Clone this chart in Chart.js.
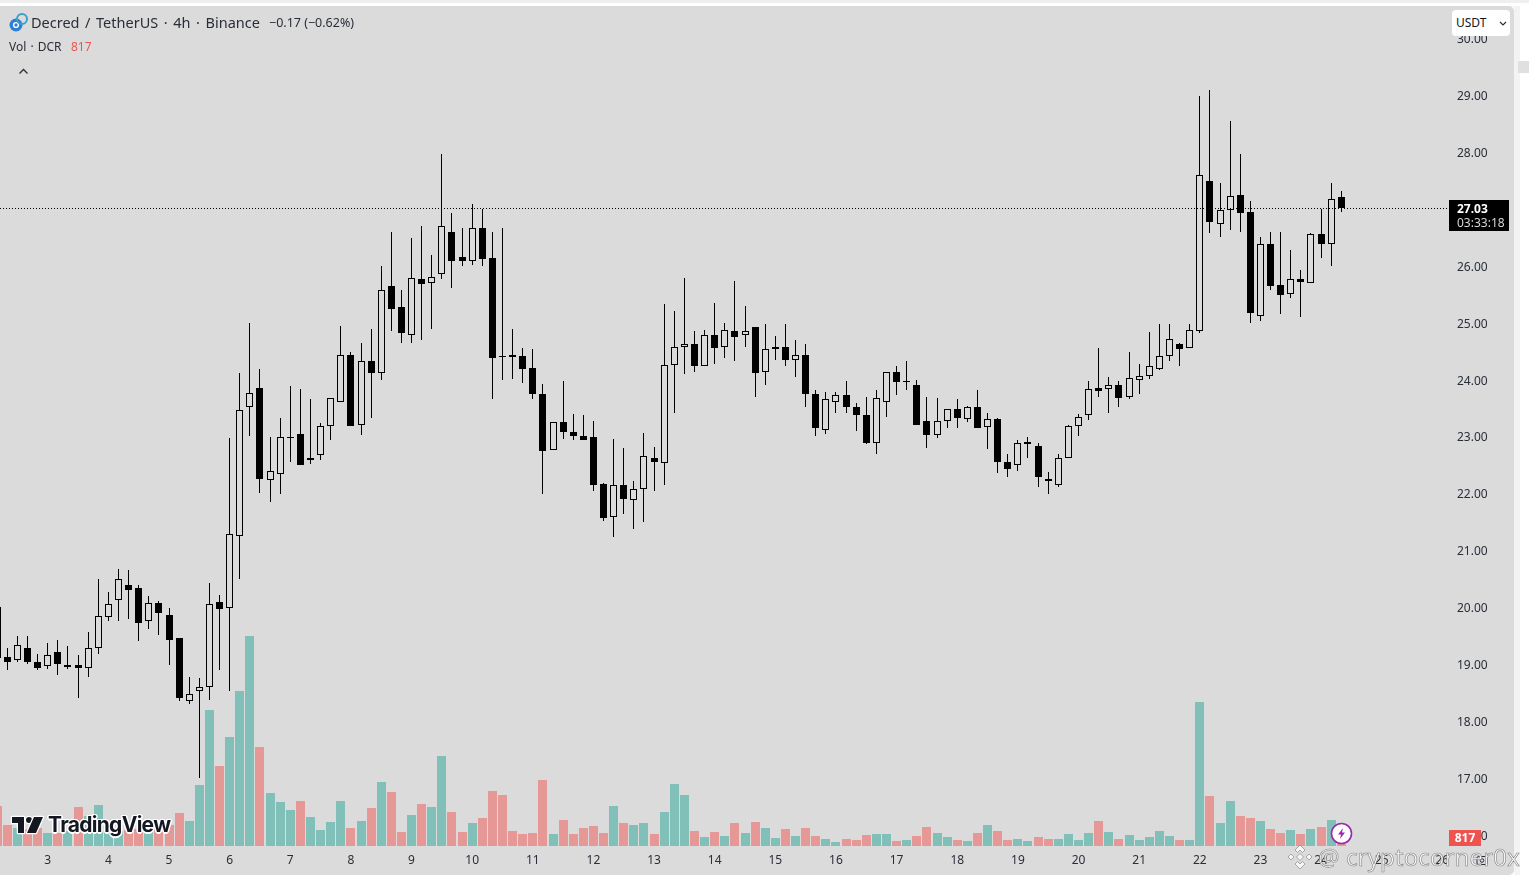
<!DOCTYPE html>
<html>
<head>
<meta charset="utf-8">
<title>Decred / TetherUS</title>
<script src="https://cdn.jsdelivr.net/npm/chart.js@4"></script>
<style>
html,body{margin:0;padding:0;width:1529px;height:882px;overflow:hidden;background:#fff;font-family:"Noto Sans",sans-serif}
#topband{position:absolute;left:0;top:0;width:1529px;height:3px;background:#efefef}
#sideband{position:absolute;left:1514px;top:6px;width:6px;height:869px;background:#f3f3f3}
#sidebox{position:absolute;left:1518px;top:61px;width:11px;height:12px;background:#e0e0e0}
#panel{position:absolute;left:0;top:6px;width:1514px;height:869px;background:#dbdbdb;border-radius:0 5px 5px 0}
#wrap{position:absolute;left:0;top:0}
.t{position:absolute;white-space:nowrap;color:#2a2e39}
#usdt{position:absolute;left:1452px;top:10px;width:58px;height:26px;background:#fff;border-radius:4px}
#logotext{position:absolute;left:48px;top:812px;font:700 21px Inter,sans-serif;color:#131722;letter-spacing:-.7px;white-space:nowrap;
  text-shadow:-1.5px 0 #fff,1.5px 0 #fff,0 -1.5px #fff,0 1.5px #fff,-1px -1px #fff,1px 1px #fff,-1px 1px #fff,1px -1px #fff}
#mark{position:absolute;left:10px;top:814px}
#bolt{position:absolute;left:1330px;top:822px}
#wm{position:absolute;left:1318px;top:840px;font:400 24px "Open Sans",sans-serif;letter-spacing:.2px;white-space:nowrap;color:rgba(248,248,248,.95);
  -webkit-text-stroke:.6px rgba(105,105,105,.8)}
#wmlogo{position:absolute;left:1286px;top:843px}
#cam{position:absolute;left:1476px;top:854px}
</style>
</head>
<body>
<div id="topband"></div>
<div id="sideband"></div>
<div id="sidebox"></div>
<div id="panel"></div>
<div id="wrap"><canvas id="c" width="1529" height="882" style="display:block;width:1529px;height:882px"></canvas></div>

<svg style="position:absolute;left:9px;top:13px" width="19" height="19" viewBox="0 0 19 19">
  <circle cx="7" cy="12" r="6.5" fill="#2f7fd6"/><circle cx="7" cy="12" r="2.4" fill="none" stroke="#fff" stroke-width="1.4"/>
  <circle cx="13" cy="6" r="5" fill="none" stroke="#3aa0c8" stroke-width="2"/>
</svg>
<div class="t" style="left:31px;top:12px;font-size:14.5px;line-height:20px;word-spacing:1.8px">Decred / TetherUS · 4h · Binance</div>
<div class="t" style="left:269px;top:14px;font-size:12.5px;line-height:18px">−0.17 (−0.62%)</div>
<div class="t" style="left:9px;top:38px;font-size:12px;line-height:17px;word-spacing:1px">Vol · DCR</div>
<div class="t" style="left:71px;top:38px;font-size:12px;line-height:17px;color:#ef5350">817</div>
<svg style="position:absolute;left:18px;top:68px" width="11" height="7" viewBox="0 0 11 7"><path d="M1.5 5.5 L5.5 1.5 L9.5 5.5" fill="none" stroke="#2a2e39" stroke-width="1.3"/></svg>

<div id="usdt"></div>
<div class="t" style="left:1456px;top:14px;font-size:12px;line-height:17px;color:#131722">USDT</div>
<svg style="position:absolute;left:1499px;top:21px" width="8" height="5" viewBox="0 0 8 5"><path d="M1 1 L4 4 L7 1" fill="none" stroke="#2a2e39" stroke-width="1.2"/></svg>

<svg id="mark" width="36" height="22" viewBox="0 0 36 22">
  <g stroke="#fff" stroke-width="2.5" paint-order="stroke" stroke-linejoin="round">
  <path d="M2 3 H14 V19 H8 V9 H2 Z" fill="#131722"/>
  <circle cx="19" cy="6" r="3" fill="#131722"/>
  <path d="M24 3 H33 L26 19 H17 Z" fill="#131722"/></g>
</svg>
<div id="logotext">TradingView</div>

<svg id="cam" width="12" height="12" viewBox="0 0 12 12"><rect x="1" y="2.5" width="10" height="8" rx="1.5" fill="none" stroke="#2a2e39"/><circle cx="6" cy="6.5" r="1.8" fill="none" stroke="#2a2e39"/></svg>

<svg id="bolt" width="24" height="24" viewBox="0 0 24 24">
  <circle cx="11.5" cy="11.5" r="10" fill="#fff" stroke="#9c27b0" stroke-width="1.6"/>
  <path d="M13 6 L8 12.5 H11 L10 17 L15 10.5 H12 Z" fill="#9c27b0"/>
</svg>
<svg id="wmlogo" width="28" height="28" viewBox="0 0 28 28" fill="rgba(248,248,248,.95)" stroke="rgba(105,105,105,.75)" stroke-width=".7">
  <path d="M14 2 L19 7 L16.5 9.5 L14 7 L11.5 9.5 L9 7 Z"/>
  <path d="M14 26 L19 21 L16.5 18.5 L14 21 L11.5 18.5 L9 21 Z"/>
  <path d="M2 14 L5 11 L8 14 L5 17 Z"/><path d="M26 14 L23 11 L20 14 L23 17 Z"/>
  <path d="M14 10.5 L17.5 14 L14 17.5 L10.5 14 Z"/>
</svg>
<div id="wm">@ cryptocorner0x</div>

<script>
const dayLabels = ["3","4","5","6","7","8","9","10","11","12","13","14","15","16","17","18","19","20","21","22","23","24","25","26"];
const priceTicks = [16,17,18,19,20,21,22,23,24,25,26,27,28,29,30];

const openPrices = [
20.01,19.13,19.09,19.29,19.04,18.98,19.22,18.99,18.99,18.95,
19.29,19.84,20.13,20.40,20.35,19.76,20.08,19.87,19.47,18.37,
18.53,18.60,20.11,19.99,21.27,23.53,23.87,22.24,22.35,23.00,
23.05,22.59,22.68,23.19,23.61,24.44,23.21,24.33,24.12,25.65,
25.28,24.79,25.77,25.70,25.86,26.61,26.16,26.10,26.68,26.14,
24.43,24.44,24.42,24.21,23.75,22.77,23.26,23.08,23.01,23.00,
22.17,21.59,22.15,21.89,22.08,22.63,22.54,24.26,24.58,24.63,
24.24,24.79,24.58,24.86,24.79,24.93,24.14,24.58,24.58,24.36,
24.44,23.75,23.12,23.62,23.73,23.52,23.38,22.89,23.61,24.14,
23.98,23.91,23.28,23.04,23.28,23.49,23.32,23.52,23.18,23.31,
22.56,22.50,22.91,22.84,22.26,22.16,22.63,23.19,23.38,23.86,
23.84,23.91,23.71,24.00,24.08,24.19,24.42,24.63,24.56,24.86,
27.49,26.75,26.98,27.25,26.95,25.12,26.39,25.67,25.51,25.77,
25.70,26.56,26.40,27.21];

const highPrices = [
20.01,19.29,19.51,19.51,19.19,19.39,19.43,19.32,19.17,19.57,
20.50,20.27,20.69,20.66,20.40,20.20,20.12,20.00,19.47,18.79,
18.77,20.44,20.22,22.98,24.12,25.00,24.19,23.00,23.33,23.89,
23.84,23.66,23.24,23.68,24.95,24.49,24.65,24.89,26.00,26.60,
25.58,26.49,26.70,26.19,27.97,26.93,26.67,27.09,27.01,26.60,
26.68,24.89,24.56,24.54,23.93,23.26,23.98,23.40,23.38,23.28,
22.19,22.96,22.80,22.22,23.07,22.82,25.33,25.21,25.79,24.86,
24.88,25.35,25.00,25.74,25.30,24.93,24.98,24.77,24.98,24.70,
24.63,23.82,23.79,23.79,23.98,23.59,23.70,23.82,24.15,24.24,
24.33,24.00,23.70,23.68,23.49,23.66,23.54,23.82,23.42,23.33,
22.70,22.94,23.00,22.89,22.38,22.71,23.21,23.40,23.98,24.56,
24.05,23.98,24.49,24.28,24.84,24.98,24.98,24.65,24.98,28.99,
29.09,27.46,28.56,27.97,27.14,26.51,26.60,26.60,26.28,25.93,
26.58,27.00,27.46,27.32];

const lowPrices = [
19.12,18.91,19.05,19.02,18.91,18.93,18.82,18.93,18.42,18.79,
19.18,19.76,19.76,19.81,19.42,19.62,19.53,19.00,18.37,18.31,
17.01,18.38,18.91,18.53,20.51,23.02,22.02,21.86,22.00,22.56,
22.51,22.52,22.59,22.94,23.61,23.19,23.03,23.34,24.01,24.87,
24.66,24.66,24.71,24.90,25.78,25.62,26.01,26.03,26.01,23.67,
24.01,24.02,23.95,23.66,22.00,22.77,22.97,22.95,22.94,22.06,
21.53,21.25,21.64,21.39,21.51,22.06,22.16,23.43,24.11,24.15,
24.24,24.29,24.39,24.34,24.59,23.71,23.92,24.36,24.24,24.06,
23.53,23.02,23.06,23.43,23.43,23.11,22.87,22.71,23.36,23.74,
23.83,23.22,22.81,22.99,23.15,23.16,23.27,23.15,22.79,22.37,
22.30,22.41,22.64,22.13,22.00,22.13,22.63,23.01,23.30,23.71,
23.43,23.52,23.67,23.76,24.02,24.17,24.34,24.25,24.56,24.83,
26.59,26.52,26.63,26.61,25.01,25.03,25.59,25.17,25.45,25.10,
25.70,26.15,26.01,26.96];

const closePrices = [
19.12,19.04,19.34,19.04,18.95,19.17,19.02,18.96,18.95,19.29,
19.85,20.06,20.50,20.31,19.74,20.08,19.91,19.44,18.42,18.48,
18.60,20.06,19.98,21.29,23.47,23.77,22.27,22.40,23.00,22.99,
22.51,22.63,23.19,23.68,24.44,23.19,24.33,24.12,25.58,25.25,
24.82,25.79,25.69,25.81,26.70,26.10,26.10,26.68,26.13,24.39,
24.43,24.41,24.20,23.76,22.76,23.26,23.08,23.01,22.94,22.16,
21.58,22.15,21.92,22.08,22.66,22.57,24.26,24.58,24.63,24.24,
24.79,24.57,24.88,24.76,24.86,24.13,24.54,24.55,24.36,24.44,
23.76,23.15,23.66,23.73,23.52,23.39,22.90,23.68,24.14,23.97,
23.98,23.22,23.04,23.28,23.49,23.34,23.52,23.15,23.31,22.57,
22.44,22.89,22.88,22.29,22.22,22.63,23.19,23.35,23.84,23.80,
23.91,23.69,24.03,24.07,24.24,24.42,24.73,24.55,24.88,27.60,
26.77,26.98,27.23,26.94,25.18,26.40,25.66,25.50,25.77,25.73,
26.56,26.40,27.19,27.03];

const volumes = [
16000,8400,7200,6800,7200,5200,5200,6000,15600,12000,
16400,7600,6000,6400,6800,5600,7600,8400,13200,10000,
24400,54400,32000,43600,62000,84000,39600,21200,17600,14400,
18000,11600,6400,9600,18000,7200,10000,15200,25600,21600,
5600,12400,16800,15600,36000,13600,5600,9200,11200,22000,
20400,6000,4800,5200,26400,4800,10400,4800,7200,8000,
5200,16000,9200,8400,9200,4800,13600,24800,20400,6000,
3600,5600,4000,9200,5200,9600,7200,3200,6800,4000,
7200,4000,2800,1600,2800,2400,4400,4800,4800,2000,
2400,4000,7600,5200,3600,2400,2000,5200,8400,6000,
2400,2800,2000,3600,2800,2800,4800,2400,5200,10000,
5600,2800,4400,2400,3600,6000,4000,2400,2400,57600,
20000,9200,18000,12000,11200,10000,6800,5200,6400,4800,
6800,7600,10400,817];

const volumeUp = [
0,0,1,0,0,1,0,1,0,1,
1,1,1,0,0,1,0,0,0,1,
1,1,0,1,1,1,0,1,1,1,
0,1,1,1,1,0,1,0,1,0,
0,1,0,1,1,0,0,1,0,0,
0,0,0,0,0,1,0,0,0,0,
0,1,0,1,1,0,1,1,1,0,
1,0,1,0,1,0,1,1,0,1,
0,0,1,1,0,0,0,1,1,0,
1,0,0,1,1,0,1,0,1,0,
0,1,1,0,0,1,1,1,1,0,
1,0,1,1,1,1,1,0,1,1,
0,1,1,0,0,1,0,0,1,0,
1,0,1,0];

const lastPrice = 27.03;
const lastVolumeLabel = "817";
const countdown = "03:33:18";

const PANEL = "#dbdbdb", INK = "#000000", UP = "#81c0b9", DOWN = "#e69896";
const firstTickIndex = 5, barsPerDay = 6;
const idx = closePrices.map((_, i) => i);

const snapPlugin = {
  id: "snap",
  afterDatasetsUpdate(chart) {
    chart.data.datasets.forEach((ds, d) => {
      chart.getDatasetMeta(d).data.forEach(el => {
        el.x = Math.floor(el.x) + 0.5;
        el.y = Math.round(el.y);
        el.base = Math.round(el.base);
        if (Math.abs(el.base - el.y) < 1) el.base = el.y + 1;
        el.height = el.base - el.y;
      });
    });
  }
};

const overlayPlugin = {
  id: "overlay",
  afterDraw(chart) {
    const c = chart.ctx, a = chart.chartArea, y = chart.scales.y;
    const py = Math.round(y.getPixelForValue(lastPrice)) + 0.5;
    c.save();
    c.strokeStyle = "#000"; c.lineWidth = 1; c.setLineDash([1, 2]);
    c.beginPath(); c.moveTo(a.left, py); c.lineTo(a.right, py); c.stroke();
    c.setLineDash([]);
    c.fillStyle = "#000"; c.fillRect(a.right, py - 8.5, 60, 31);
    c.textBaseline = "middle"; c.textAlign = "left";
    c.fillStyle = "#fff"; c.font = "700 12px 'Noto Sans', sans-serif";
    c.fillText(lastPrice.toFixed(2), a.right + 8, py + 1);
    c.fillStyle = "#d5d5d5"; c.font = "12px 'Noto Sans', sans-serif";
    c.fillText(countdown, a.right + 8, py + 15);
    c.fillStyle = "#ef5350"; c.fillRect(a.right, a.bottom - 16, 32, 16);
    c.fillStyle = "#fff"; c.font = "700 12px 'Noto Sans', sans-serif"; c.textAlign = "center";
    c.fillText(lastVolumeLabel, a.right + 16, a.bottom - 7);
    c.restore();
  }
};

new Chart(document.getElementById("c"), {
  type: "bar",
  plugins: [snapPlugin, overlayPlugin],
  data: {
    datasets: [
      { label: "Body", order: 1, grouped: false, yAxisID: "y", barThickness: 7, borderWidth: 1,
        borderSkipped: false, inflateAmount: 0, borderColor: INK,
        backgroundColor: idx.map(i => closePrices[i] > openPrices[i] ? PANEL : INK),
        data: idx.map(i => ({ x: i, y: [openPrices[i], closePrices[i]] })) },
      { label: "Wick", order: 2, grouped: false, yAxisID: "y", barThickness: 1, borderWidth: 0,
        inflateAmount: 0, backgroundColor: INK,
        data: idx.map(i => ({ x: i, y: [lowPrices[i], highPrices[i]] })) },
      { label: "Vol", order: 3, grouped: false, yAxisID: "v", barThickness: 9, borderWidth: 0,
        inflateAmount: 0, backgroundColor: idx.map(i => volumeUp[i] ? UP : DOWN),
        data: idx.map(i => ({ x: i, y: volumes[i] })) }
    ]
  },
  options: {
    responsive: false, animation: false, devicePixelRatio: 1,
    layout: { padding: { left: 0, top: 7, right: 15, bottom: 8 }, autoPadding: false },
    plugins: { legend: { display: false }, tooltip: { enabled: false }, title: { display: false } },
    scales: {
      x: {
        type: "linear", offset: false, min: 0.2769, max: 143.66,
        grid: { display: false, drawTicks: false, offset: false }, border: { display: false },
        afterFit(s) { s.height = 28; s.paddingLeft = 0; s.paddingRight = 0; },
        afterBuildTicks(s) { s.ticks = dayLabels.map((_, k) => ({ value: firstTickIndex + k * barsPerDay })); },
        ticks: {
          autoSkip: false, maxRotation: 0, minRotation: 0, padding: 7,
          color: "#2a2e39", font: { size: 12, family: "'Noto Sans', sans-serif" },
          callback: v => dayLabels[(v - firstTickIndex) / barsPerDay]
        }
      },
      y: {
        position: "right", min: 15.815, max: 30.555,
        grid: { display: false, drawTicks: false }, border: { display: false },
        afterFit(s) { s.width = 65; s.paddingTop = 0; s.paddingBottom = 0; },
        afterBuildTicks(s) { s.ticks = priceTicks.map(v => ({ value: v })); },
        ticks: {
          padding: 8, labelOffset: 1, color: "#2a2e39", font: { size: 12, family: "'Noto Sans', sans-serif" },
          callback: v => v.toFixed(2)
        }
      },
      v: { display: false, position: "left", min: 0, max: 335600 }
    }
  }
});
</script>
</body>
</html>
